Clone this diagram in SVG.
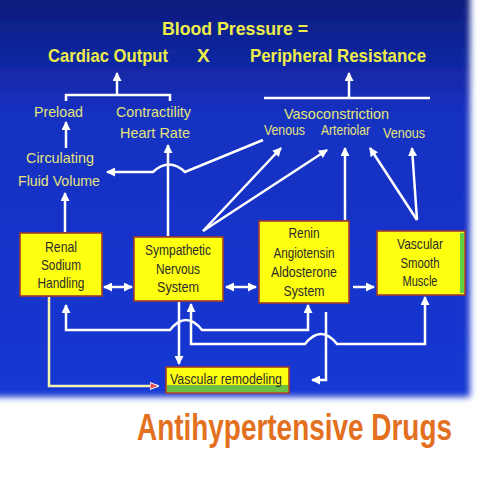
<svg xmlns="http://www.w3.org/2000/svg" width="480" height="480" viewBox="0 0 480 480">
<defs>
<linearGradient id="bg" x1="0" y1="0" x2="0" y2="1">
<stop offset="0" stop-color="#0c1a76"/>
<stop offset="0.3" stop-color="#1530c0"/>
<stop offset="1" stop-color="#1838d4"/>
</linearGradient>
<filter id="soft" x="-5%" y="-5%" width="110%" height="110%"><feGaussianBlur stdDeviation="3"/></filter>
<marker id="ah" markerUnits="userSpaceOnUse" markerWidth="9" markerHeight="9" refX="8" refY="4.5" orient="auto-start-reverse" viewBox="0 0 9 9"><path d="M0,0 L9,4.5 L0,9 z" fill="#fff"/></marker>
<marker id="ahr" markerUnits="userSpaceOnUse" markerWidth="9" markerHeight="9" refX="8" refY="4.5" orient="auto" viewBox="0 0 9 9"><path d="M0,1 L9,4.5 L0,8 z" fill="#e05050" stroke="#fff" stroke-width="1"/></marker>
<style>
.t{font-family:"Liberation Sans",Arial,sans-serif;font-weight:bold;fill:#eded4a;font-size:19px}
.l{font-family:"Liberation Sans",Arial,sans-serif;fill:#e4e47a;font-size:15px}
.b{font-family:"Liberation Sans",Arial,sans-serif;fill:#2a2a2a;font-size:15px;text-anchor:middle}
.box{fill:#ffff10;stroke:#a03a2a;stroke-width:1.6}
.c{fill:none;stroke:#fff;stroke-width:2.5}
.a{marker-end:url(#ah)}
.d{marker-start:url(#ah);marker-end:url(#ah)}
</style>
</defs>
<rect x="-10" y="-10" width="480" height="407" fill="url(#bg)" filter="url(#soft)"/>

<g id="title">
<text class="t" x="162" y="35" textLength="146" lengthAdjust="spacingAndGlyphs">Blood Pressure =</text>
<text class="t" x="48" y="62" font-size="20" textLength="120" lengthAdjust="spacingAndGlyphs">Cardiac Output</text>
<text class="t" x="197" y="62" font-size="20">X</text>
<text class="t" x="250" y="62" font-size="20" textLength="176" lengthAdjust="spacingAndGlyphs">Peripheral Resistance</text>
</g>

<g id="labels">
<text class="l" x="34" y="117" textLength="49" lengthAdjust="spacingAndGlyphs">Preload</text>
<text class="l" x="116" y="117" textLength="75" lengthAdjust="spacingAndGlyphs">Contractility</text>
<text class="l" x="120" y="138" textLength="70" lengthAdjust="spacingAndGlyphs">Heart Rate</text>
<text class="l" x="284" y="119" font-size="16" textLength="105" lengthAdjust="spacingAndGlyphs">Vasoconstriction</text>
<text class="l" x="264" y="135" font-size="13" textLength="41" lengthAdjust="spacingAndGlyphs">Venous</text>
<text class="l" x="321" y="135" font-size="13" textLength="49" lengthAdjust="spacingAndGlyphs">Arteriolar</text>
<text class="l" x="383" y="138" font-size="13" textLength="42" lengthAdjust="spacingAndGlyphs">Venous</text>
<text class="l" x="26" y="163" textLength="68" lengthAdjust="spacingAndGlyphs">Circulating</text>
<text class="l" x="18" y="186" textLength="82" lengthAdjust="spacingAndGlyphs">Fluid Volume</text>
</g>

<g id="connectors">
<path class="c" d="M66,101 V95 H170 V101"/>
<path class="c a" d="M117,95 V73"/>
<path class="c" d="M264,98 H430"/>
<path class="c a" d="M349,98 V73"/>
<path class="c a" d="M66,148 V122"/>
<path class="c a" d="M65,232 V193"/>
<path class="c a" d="M263,140 L185,172 Q169,157 153,172 L107,172"/>
<path class="c a" d="M168,236 V145"/>
<path class="c a" d="M203,231 L281,148"/>
<path class="c a" d="M203,231 L327,150"/>
<path class="c a" d="M345,220 V148"/>
<path class="c a" d="M417,220 L370,148"/>
<path class="c a" d="M417,220 L412,148"/>
<path class="c d" d="M104,287 H132"/>
<path class="c d" d="M226,287 H256"/>
<path class="c a" d="M353,287 H374"/>
<path fill="none" stroke="#f4f4b0" stroke-width="2.5" marker-end="url(#ahr)" d="M49,297 V386 H158"/>
<path class="c d" d="M66,305 V330 H170 Q186,310 202,330 H308 V305"/>
<path class="c d" d="M191,304 V344 H305 Q321,324 337,344 H425 V297"/>
<path class="c a" d="M179,302 V364"/>
<path class="c a" d="M326,312 V380 H312"/>
</g>

<g id="renal">
<rect class="box" x="20" y="233" width="82" height="63"/>
<text class="b" x="61" y="252" textLength="32" lengthAdjust="spacingAndGlyphs">Renal</text>
<text class="b" x="61" y="270" textLength="40" lengthAdjust="spacingAndGlyphs">Sodium</text>
<text class="b" x="61" y="288" textLength="47" lengthAdjust="spacingAndGlyphs">Handling</text>
</g>
<g id="sympathetic">
<rect class="box" x="134" y="237" width="89" height="64"/>
<text class="b" x="178" y="255" textLength="66" lengthAdjust="spacingAndGlyphs">Sympathetic</text>
<text class="b" x="178" y="274" textLength="44" lengthAdjust="spacingAndGlyphs">Nervous</text>
<text class="b" x="178" y="292" textLength="42" lengthAdjust="spacingAndGlyphs">System</text>
</g>
<g id="raas">
<rect class="box" x="259" y="221" width="90" height="82"/>
<text class="b" x="304" y="238" textLength="31" lengthAdjust="spacingAndGlyphs">Renin</text>
<text class="b" x="304" y="258" textLength="61" lengthAdjust="spacingAndGlyphs">Angiotensin</text>
<text class="b" x="304" y="277" textLength="66" lengthAdjust="spacingAndGlyphs">Aldosterone</text>
<text class="b" x="304" y="296" textLength="41" lengthAdjust="spacingAndGlyphs">System</text>
</g>
<g id="vsm">
<rect class="box" x="377" y="231" width="88" height="64"/>
<rect x="460" y="233" width="4" height="60" fill="#60d040"/>
<text class="b" x="420" y="249" textLength="46" lengthAdjust="spacingAndGlyphs">Vascular</text>
<text class="b" x="420" y="268" textLength="39" lengthAdjust="spacingAndGlyphs">Smooth</text>
<text class="b" x="420" y="286" textLength="35" lengthAdjust="spacingAndGlyphs">Muscle</text>
</g>
<g id="remodeling">
<rect class="box" x="166" y="367" width="123" height="26"/>
<rect x="167" y="385" width="121" height="7" fill="#6cc040"/>
<text class="b" x="226" y="384" font-size="14" textLength="112" lengthAdjust="spacingAndGlyphs">Vascular remodeling</text>
</g>

<text transform="translate(137,440) scale(1,1.3)" x="0" y="0" font-family="'Liberation Sans',sans-serif" font-weight="bold" font-size="28" fill="#e3701e" textLength="315" lengthAdjust="spacingAndGlyphs">Antihypertensive Drugs</text>
</svg>
